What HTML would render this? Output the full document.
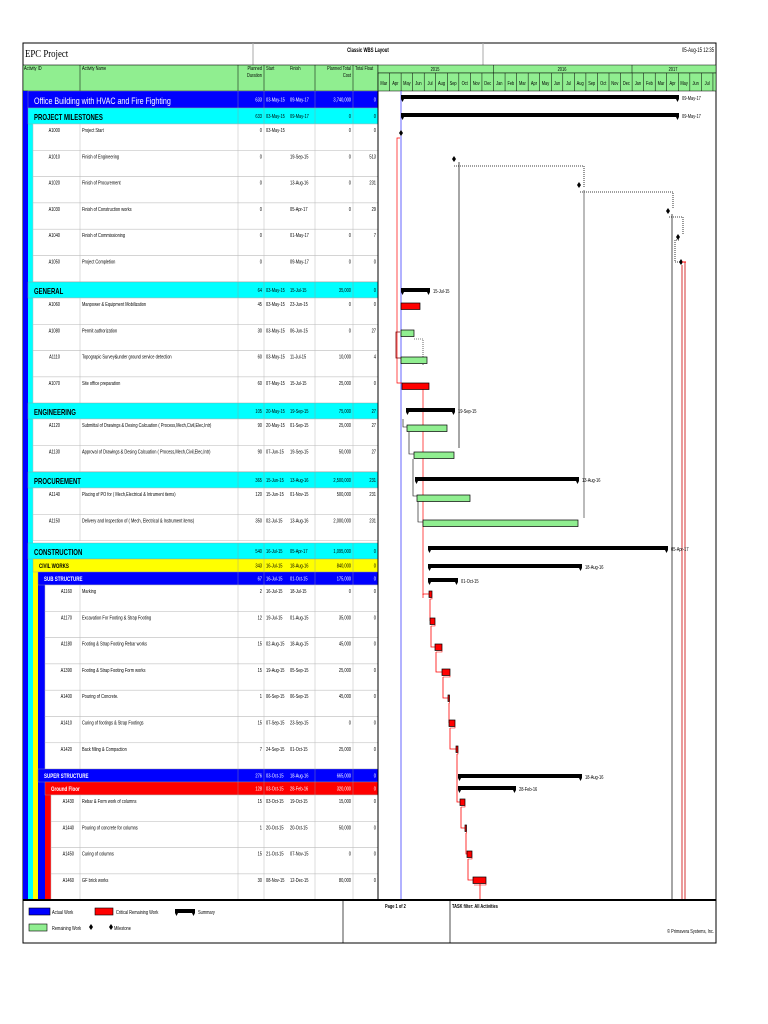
<!DOCTYPE html>
<html><head><meta charset="utf-8"><style>
html,body{margin:0;padding:0;background:#fff;}
svg{display:block;}
text{font-family:"Liberation Sans",sans-serif;}
</style></head><body>
<svg id="s" width="768" height="1024" viewBox="0 0 768 1024" xmlns="http://www.w3.org/2000/svg"></svg>
<script>
var S=document.getElementById('s'),h='';
function R(x,y,w,hh,f,st,sw){h+='<rect x="'+x+'" y="'+y+'" width="'+w+'" height="'+hh+'" fill="'+f+'"'+(st?' stroke="'+st+'" stroke-width="'+(sw||0.6)+'"':'')+'/>';}
function L(x1,y1,x2,y2,c,w,da){h+='<line x1="'+x1+'" y1="'+y1+'" x2="'+x2+'" y2="'+y2+'" stroke="'+c+'" stroke-width="'+(w||0.6)+'"'+(da?' stroke-dasharray="'+da+'"':'')+'/>';}
function T(x,y,s,sz,c,a,b,sx,fam){h+='<text transform="translate('+x+','+y+') scale('+(sx||0.72)+',1)" font-size="'+sz+'" fill="'+(c||'#000')+'"'+(a?' text-anchor="'+a+'"':'')+(b?' font-weight="bold"':'')+(fam?' style="font-family:'+fam+'"':'')+'>'+s+'</text>';}
R(23,43,693,900,'#fff','#000',1);
T(25,57,'EPC Project',11,'#000',null,false,0.8,"'Liberation Serif',serif");
L(253,43,253,65,'#aaa',1);L(483,43,483,65,'#aaa',1);
T(368,52,'Classic WBS Layout',6,'#000','middle',true);
T(714,52,'05-Aug-15 12:35',6,'#000','end');
R(23,65,355,26,'#90ee90','#000',0.6);
[80,238,264,315,353].forEach(function(x){L(x,65,x,91,'#000',0.5);});
T(24,70,'Activity ID',5.5);T(82,70,'Activity Name',5.5);
T(262,70,'Planned',5.5,'#000','end');T(262,77,'Duration',5.5,'#000','end');
T(266,70,'Start',5.5);T(290,70,'Finish',5.5);
T(351,70,'Planned Total',5.5,'#000','end');T(351,77,'Cost',5.5,'#000','end');T(355,70,'Total Float',5.5);
R(378,65,338,8,'#90ee90','#000',0.5);R(378,73,338,18,'#90ee90','#000',0.5);
L(493.5,65,493.5,73,'#000',0.5);L(632,65,632,73,'#000',0.5);
T(435,71,'2015',5.5,'#000','middle');T(562,71,'2016',5.5,'#000','middle');T(673,71,'2017',5.5,'#000','middle');
var mn=['Jan','Feb','Mar','Apr','May','Jun','Jul','Aug','Sep','Oct','Nov','Dec'];
for(var i=0;i<30;i++){var x=378+i*11.55;if(x>716)break;L(x,73,x,91,'#000',0.5);var m=(i+2)%12;if(x+6<716)T(x+5.8,85,mn[m],5.5,'#000','middle');}
R(23,91,5,809,'#0000ff');R(28,108,5,792,'#00ffff');R(33,559,5,341,'#ffff00');R(38,572,7,328,'#0000ff');R(45,782,6,118,'#ff0000');
function band(y,hh,x0,col,txt,tc,sz,v,bold){R(x0,y,378-x0,hh,col,'#999',0.4);T(x0+6,y+hh-4,txt,sz,tc,null,bold!==false,0.75);var ty=y+hh/2+2;
 T(262,ty,v[0],5.5,tc,'end');T(266,ty,v[1],5.5,tc);T(290,ty,v[2],5.5,tc);T(351,ty,v[3],5.5,tc,'end');T(376,ty,v[4],5.5,tc,'end');
 [238,264,315,353].forEach(function(x){L(x,y,x,y+hh,'#999',0.4);});}
function act(y,x0,id,nm,v){R(x0,y,378-x0,26.3,'#fff','#bbb',0.5);T(x0<40?60:(x0<46?72:74),y+8,id,5.5,'#000','end');T(82,y+8,nm,5.5);
 L(80,y,80,y+26.3,'#bbb',0.5);[238,264,315,353].forEach(function(x){L(x,y,x,y+26.3,'#bbb',0.5);});
 T(262,y+8,v[0],5.5,'#000','end');T(266,y+8,v[1],5.5);T(290,y+8,v[2],5.5);T(351,y+8,v[3],5.5,'#000','end');T(376,y+8,v[4],5.5,'#000','end');}
R(28,91,350,17,'#0000ff');band(91,17,28,'#0000ff','Office Building with HVAC and Fire Fighting','#fff',9.5,['633','03-May-15','09-May-17','3,740,000','0'],false);
band(108,16,28,'#00ffff','PROJECT MILESTONES','#000',8,['633','03-May-15','09-May-17','0','0']);
var ms=[['A1000','Project Start','0','03-May-15','','0','0'],['A1010','Finish of Engineering','0','','19-Sep-15','0','513'],['A1020','Finish of Procurement','0','','13-Aug-16','0','231'],['A1030','Finish of Construction works','0','','05-Apr-17','0','29'],['A1040','Finish of Commissioning','0','','01-May-17','0','7'],['A1050','Project Completion','0','','09-May-17','0','0']];
ms.forEach(function(r,i){act(124+i*26.3,33,r[0],r[1],r.slice(2));});
band(282,16,28,'#00ffff','GENERAL','#000',8,['64','03-May-15','15-Jul-15','35,000','0']);
[['A1060','Manpower &amp; Equipment Mobilization','45','03-May-15','23-Jun-15','0','0'],['A1080','Permit authorization','30','03-May-15','06-Jun-15','0','27'],['A1110','Topograpic Survey&amp;under ground service detection','60','03-May-15','11-Jul-15','10,000','4'],['A1070','Site office preparation','60','07-May-15','15-Jul-15','25,000','0']].forEach(function(r,i){act(298+i*26.3,33,r[0],r[1],r.slice(2));});
band(403,16,28,'#00ffff','ENGINEERING','#000',8,['105','20-May-15','19-Sep-15','75,000','27']);
[['A1120','Submittal of Drawings &amp; Desing Calcuation ( Process,Mech,Civil,Elec,Intr)','90','20-May-15','01-Sep-15','25,000','27'],['A1130','Approval of Drawings &amp; Desing Calcuation ( Process,Mech,Civil,Elec,Intr)','90','07-Jun-15','19-Sep-15','50,000','27']].forEach(function(r,i){act(419+i*26.3,33,r[0],r[1],r.slice(2));});
band(472,16,28,'#00ffff','PROCUREMENT','#000',8,['365','15-Jun-15','13-Aug-16','2,500,000','231']);
[['A1140','Placing of PO for ( Mech,Electrical &amp; Intrument items)','120','15-Jun-15','01-Nov-15','500,000','231'],['A1150','Delivery and Inspection of ( Mech, Electrical &amp; Instrument items)','350','02-Jul-15','13-Aug-16','2,000,000','231']].forEach(function(r,i){act(488+i*26.3,33,r[0],r[1],r.slice(2));});
band(543,16,28,'#00ffff','CONSTRUCTION','#000',8,['540','16-Jul-15','05-Apr-17','1,095,000','0']);
band(559,13,33,'#ffff00','CIVIL WORKS','#000',6,['343','16-Jul-15','18-Aug-16','840,000','0']);
band(572,13,38,'#0000ff','SUB STRUCTURE','#fff',6,['67','16-Jul-15','01-Oct-15','175,000','0']);
[['A1160','Marking','2','16-Jul-15','18-Jul-15','0','0'],['A1170','Excavation For Footing &amp; Strap Footing','12','19-Jul-15','01-Aug-15','35,000','0'],['A1180','Footing &amp; Strap Footing Rebar works','15','02-Aug-15','18-Aug-15','45,000','0'],['A1390','Footing &amp; Strap Footing Form works','15','19-Aug-15','05-Sep-15','25,000','0'],['A1400','Pouring of Concrete.','1','06-Sep-15','06-Sep-15','45,000','0'],['A1410','Curing of footings &amp; Strap Footings','15','07-Sep-15','23-Sep-15','0','0'],['A1420','Back filling &amp; Compaction','7','24-Sep-15','01-Oct-15','25,000','0']].forEach(function(r,i){act(585+i*26.3,45,r[0],r[1],r.slice(2));});
band(769,13,38,'#0000ff','SUPER STRUCTURE','#fff',6,['276','03-Oct-15','18-Aug-16','665,000','0']);
band(782,13,45,'#ff0000','Ground Floor','#fff',6,['128','03-Oct-15','28-Feb-16','320,000','0']);
[['A1430','Rebar &amp; Form work of columns','15','03-Oct-15','19-Oct-15','15,000','0'],['A1440','Pouring of concrete for columns','1','20-Oct-15','20-Oct-15','50,000','0'],['A1450','Curing of columns','15','21-Oct-15','07-Nov-15','0','0'],['A1460','GF brick works','30','08-Nov-15','12-Dec-15','80,000','0']].forEach(function(r,i){act(795+i*26.3,51,r[0],r[1],r.slice(2));});
L(378,91,378,900,'#000',1);
function sum(x1,x2,y,lab){R(x1,y-2,x2-x1,4,'#000');h+='<polygon points="'+x1+','+(y+2)+' '+(x1+3)+','+(y+2)+' '+(x1+1.5)+','+(y+5)+'" fill="#000"/><polygon points="'+(x2-3)+','+(y+2)+' '+x2+','+(y+2)+' '+(x2-1.5)+','+(y+5)+'" fill="#000"/>';if(lab)T(x2+3,y+3,lab,5.5);}
function bar(x1,x2,y,c){R(x1,y,Math.max(x2-x1,1.5),6.5,c,'#000',0.7);}
function dia(x,y){h+='<polygon points="'+x+','+(y-3)+' '+(x+2)+','+y+' '+x+','+(y+3)+' '+(x-2)+','+y+'" fill="#000"/>';}
L(401,91,401,900,'#6666ff',1);
sum(401,679,97,'09-May-17');sum(401,679,115,'09-May-17');
dia(401,133);dia(454,159);dia(579,185);dia(668,211);dia(678,237);dia(681,262);
h+='<polyline points="454,166 584,166 584,188" fill="none" stroke="#000" stroke-width="0.8" stroke-dasharray="1,1"/>';
h+='<polyline points="580,192 673,192 673,209" fill="none" stroke="#000" stroke-width="0.8" stroke-dasharray="1,1"/>';
h+='<polyline points="669,217 683,217 683,234" fill="none" stroke="#000" stroke-width="0.8" stroke-dasharray="1,1"/>';
h+='<polyline points="679,240 675,240 675,262 680,262" fill="none" stroke="#000" stroke-width="0.8" stroke-dasharray="1,1"/>';
L(459,162,459,448,'#000',0.7);L(584,190,584,518,'#555',0.8);L(672,214,672,900,'#000',0.7);
L(682,265,682,900,'#c00',0.8);L(685,262,685,900,'#c00',0.8);L(682,262,686,262,'#f00',1);
h+='<polyline points="400,138 397,138 397,383 402,383" fill="none" stroke="#f00" stroke-width="0.7"/>';
L(423,385,423,598,'#f00',0.7);
h+='<polyline points="400,332 396,332 396,358 401,358" fill="none" stroke="#700" stroke-width="0.8"/>';
h+='<polyline points="414,339 423,339 423,366" fill="none" stroke="#000" stroke-width="0.6" stroke-dasharray="1,1"/>';
sum(401,430,290,'15-Jul-15');
bar(401,420,303,'#ff0000');bar(401,414,330,'#90ee90');bar(401,427,357,'#90ee90');bar(402,429,383,'#ff0000');
sum(406,455,410,'19-Sep-15');bar(407,447,425,'#90ee90');bar(414,454,452,'#90ee90');
h+='<polyline points="403,419 403,427 407,427" fill="none" stroke="#000" stroke-width="0.6"/>';
h+='<polyline points="409,432 409,454 414,454" fill="none" stroke="#000" stroke-width="0.6"/>';
h+='<polyline points="413,459 413,496 417,496" fill="none" stroke="#000" stroke-width="0.6"/>';
h+='<polyline points="418,502 418,522 423,522" fill="none" stroke="#000" stroke-width="0.6"/>';
sum(415,579,479,'13-Aug-16');bar(417,470,495,'#90ee90');bar(423,578,520,'#90ee90');
sum(428,668,548,'05-Apr-17');sum(428,582,566,'18-Aug-16');sum(428,458,580,'01-Oct-15');
var cb=[[429,432,591],[430,435,618],[435,442,644],[442,450,669],[448,449.5,695],[449,455,720],[456,458,746],[460,465,799],[465,466.5,825],[467,472,851],[473,486,877]];
var px=423,py=595;
cb.forEach(function(b){h+='<polyline points="'+px+','+py+' '+px+','+(b[2]+3)+' '+b[0]+','+(b[2]+3)+'" fill="none" stroke="#f00" stroke-width="0.8"/>';bar(b[0],b[1],b[2],'#ff0000');px=b[0]+1;py=b[2]+8;h+='<polyline points="'+b[1]+','+(b[2]+6.5)+' '+b[1]+','+py+' '+px+','+py+'" fill="none" stroke="#f00" stroke-width="0.6"/>';});
L(480,884,480,900,'#f00',0.8);
sum(458,582,776,'18-Aug-16');sum(458,516,788,'28-Feb-16');
L(23,900,716,900,'#000',2);L(343,900,343,943,'#000',0.7);L(450,900,450,943,'#000',0.7);
R(29,908,21,7,'#0000ff','#000',0.6);T(52,914,'Actual Work',5.5);
R(95,908,18,7,'#ff0000','#000',0.6);T(116,914,'Critical Remaining Work',5.5);
sum(175,195,911,'');T(198,914,'Summary',5.5);
R(29,924,18,7,'#90ee90','#000',0.6);T(52,930,'Remaining Work',5.5);dia(91,927);dia(111,927);T(114,930,'Milestone',5.5);
T(385,908,'Page 1 of 2',5.5,'#000',null,true);T(452,908,'TASK filter: All Activities',5.5,'#000',null,true);
T(714,933,'© Primavera Systems, Inc.',5.5,'#000','end');
S.innerHTML=h;
</script>
</body></html>
